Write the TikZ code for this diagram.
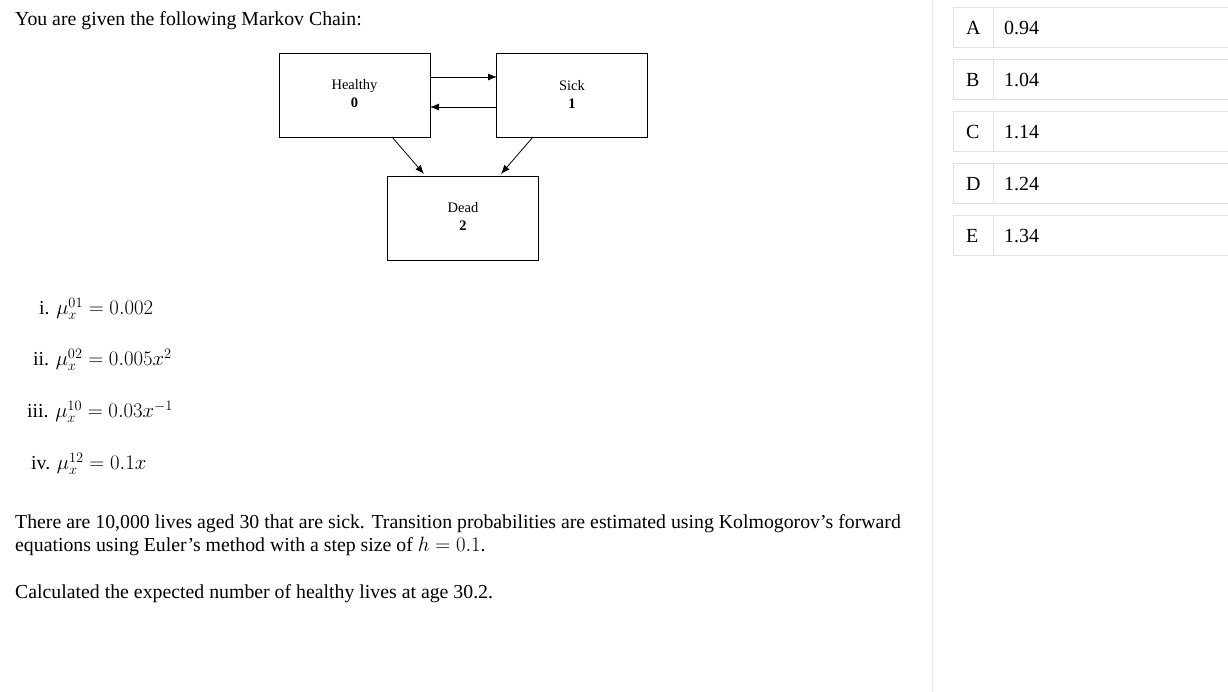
\documentclass[tikz,border=0pt]{standalone}
\usepackage{fontspec}
\setmainfont{Liberation Serif}
\usetikzlibrary{arrows.meta}
\begin{document}
\begin{tikzpicture}[x=1pt,y=-1pt,
  txt/.style={anchor=west,inner sep=0pt,yshift=-3pt,font=\fontsize{19.8}{23}\selectfont},
  st/.style={draw,line width=0.9pt,minimum width=151pt,minimum height=84pt,inner sep=0pt},
  lbl/.style={font=\fontsize{14.5}{18}\selectfont,align=center},
  arr/.style={-{Latex[length=9pt,width=7pt]},line width=0.8pt},
  row/.style={draw=black!12,line width=0.8pt},
  opt/.style={anchor=west,inner sep=0pt,yshift=-1pt,font=\fontsize{20}{23}\selectfont}]
\useasboundingbox (0,0) rectangle (1228,692);
\fill[white] (0,0) rectangle (1228,692);
\node[txt] (t1) at (15,18) {You are given the following Markov Chain:};
\node[st] (h) at (354.5,95) {};
\node[st] (s) at (572,95) {};
\node[st] (d) at (463,218) {};
\node[lbl] (hl) at (354.5,94) {Healthy\\\textbf{0}};
\node[lbl] (sl) at (572,94) {Sick\\\textbf{1}};
\node[lbl] (dl) at (463,216) {Dead\\\textbf{2}};
\coordinate (a1) at (430,77); \coordinate (b1) at (497,77);
\coordinate (a2) at (497,107); \coordinate (b2) at (430,107);
\coordinate (c1) at (392,137); \coordinate (d1) at (424,174);
\coordinate (c2) at (533,137); \coordinate (d2) at (501,174);
\draw[arr] (a1) -- (b1);
\draw[arr] (a2) -- (b2);
\draw[arr] (c1) -- (d1);
\draw[arr] (c2) -- (d2);
\node[txt] (m1) at (39,306) {i. $\mu_x^{01}=0.002$};
\node[txt] (m2) at (33,357) {ii. $\mu_x^{02}=0.005x^2$};
\node[txt] (m3) at (27,409) {iii. $\mu_x^{10}=0.03x^{-1}$};
\node[txt] (m4) at (31,461) {iv. $\mu_x^{12}=0.1x$};
\node[txt,anchor=north west,align=left] (p1) at (15,511) {There are 10,000 lives aged 30 that are sick. Transition probabilities are estimated using Kolmogorov's forward\\equations using Euler's method with a step size of $h=0.1$.};
\node[txt] (p2) at (15,591) {Calculated the expected number of healthy lives at age 30.2.};
\draw[black!8,line width=0.8pt] (932,0) -- (932,692);
\foreach \y/\l/\v in {7/A/0.94,59/B/1.04,111/C/1.14,163/D/1.24,215/E/1.34}{
  \draw[row] (1228,\y) -- (953,\y) -- (953,\y+40) -- (1228,\y+40);
  \draw[row] (993,\y) -- (993,\y+40);
  \node[opt] at (966,\y+20) {\l};
  \node[opt] at (1004,\y+20) {\v};
}
\end{tikzpicture}
\end{document}
